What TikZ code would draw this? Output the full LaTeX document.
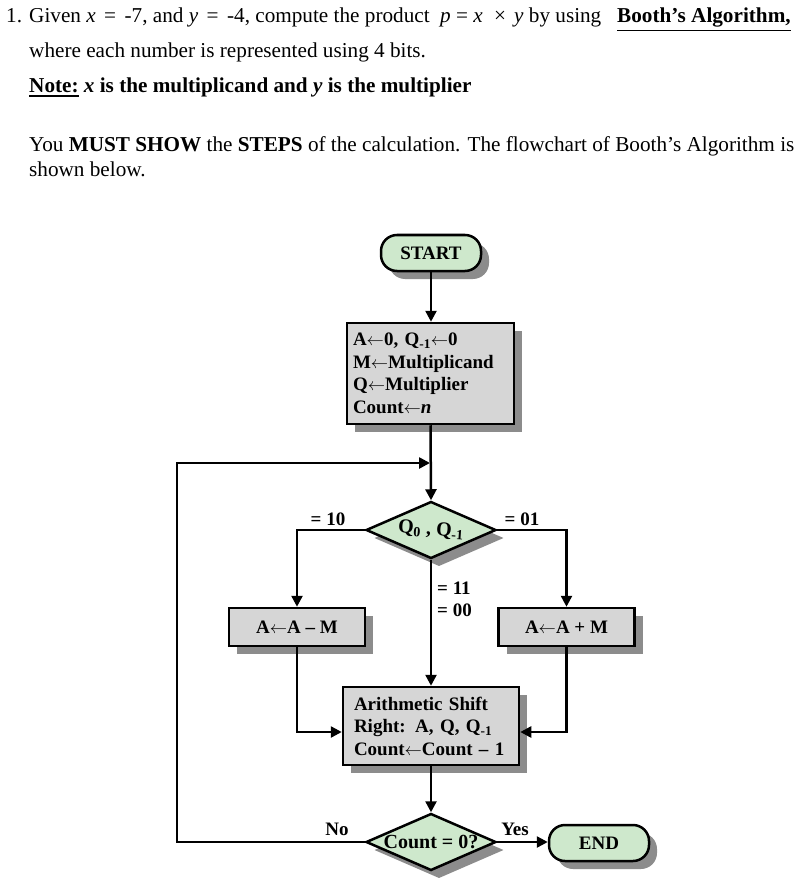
\documentclass[tikz,border=0pt]{standalone}
\usepackage{fontspec}
\setmainfont{Liberation Serif}
\usetikzlibrary{shapes.geometric,shadows,arrows.meta}
\definecolor{boxgreen}{RGB}{206,232,204}
\definecolor{boxgray}{RGB}{214,214,214}
\newcommand\myul[1]{\leavevmode\vtop{\hbox{#1}\kern2pt\hrule height 1.6pt}}
\newcommand\eqsp{\hspace{0.4em}}
\begin{document}
\begin{tikzpicture}[x=1pt,y=-1pt,
  txt/.style={inner sep=0pt, anchor=base west, font=\fontsize{21.2}{25}\selectfont},
  shd/.style={drop shadow={shadow xshift=8pt,shadow yshift=-8pt,fill=black!60,opacity=0.75}},
  procbox/.style={draw, line width=2.5pt, fill=boxgray, shd, font=\fontsize{19}{22.5}\selectfont\bfseries, inner sep=0pt},
  termbox/.style={draw, line width=2.5pt, fill=boxgreen, shd, rounded corners=16pt, font=\fontsize{19}{22}\selectfont\bfseries, minimum width=100pt, minimum height=36pt, inner sep=0pt},
  decbox/.style={diamond, draw, line width=2.5pt, fill=boxgreen, shd, minimum width=130pt, minimum height=57pt, inner sep=0pt},
  dectext/.style={font=\fontsize{20}{22}\selectfont\bfseries, inner sep=0pt},
  lbl/.style={font=\fontsize{19}{22}\selectfont\bfseries, inner sep=0pt},
  flow/.style={line width=2.5pt, -{Triangle[length=11pt,width=11pt]}}
]
\useasboundingbox (0,0) rectangle (796,885);
\fill[white] (0,0) rectangle (796,885);

% ---- question text ----
\node[txt] (l1a) at (6,23) {1.};
\node[txt] (l1b) at (29,23) {Given \textit{x}\eqsp=\eqsp-7, and \textit{y}\eqsp=\eqsp-4, compute the product};
\node[txt] (l1c) at (440,23) {\textit{p} = \textit{x}};
\node[txt] (l1d) at (494,23) {×};
\node[txt] (l1e) at (514,23) {\textit{y} by using};
\node[txt] (l1f) at (617,23) {\textbf{\myul{Booth’s Algorithm,}}};
\node[txt] (l2) at (29,58) {where each number is represented using 4 bits.};
\node[txt] (l3) at (29,93) {\textbf{\myul{Note:} \textit{x} is the multiplicand and \textit{y} is the multiplier}};
\node[txt] (l4) at (29,152) {You \textbf{MUST SHOW} the \textbf{STEPS} of the calculation. The flowchart of Booth’s Algorithm is};
\node[txt] (l5) at (29,177) {shown below.};

% ---- flowchart nodes ----
\node[termbox] (start) at (431,253) {START};
\node[procbox, minimum width=167pt, minimum height=101pt, text width=155pt, align=left] (init) at (430.5,373.5)
  {A$\leftarrow$0, Q\textsubscript{-1}$\leftarrow$0\\M$\leftarrow$Multiplicand\\Q$\leftarrow$Multiplier\\Count$\leftarrow$\textit{n}};
\node[decbox, label={[dectext, name=dQt, rotate=-4]center:Q\textsubscript{0} , Q\textsubscript{-1}}] (dQ) at (431,530) {};
\node[procbox, minimum width=136pt, minimum height=38pt] (am) at (297,627) {A$\leftarrow$A – M};
\node[procbox, minimum width=136pt, minimum height=38pt] (ap) at (566.5,627) {A$\leftarrow$A + M};
\node[procbox, minimum width=176pt, minimum height=78pt, text width=154pt, align=left] (arith) at (431,726)
  {Arithmetic Shift\\Right: A, Q, Q\textsubscript{-1}\\Count$\leftarrow$Count – 1};
\node[decbox, label={[dectext, name=dCt]center:Count = 0?}] (dC) at (431,842) {};
\node[termbox] (end) at (599,843) {END};

% ---- connectors ----
\coordinate (join) at (430,463);
\coordinate (loopbot) at (177,842);
\draw[flow] (start.south) -- (start.south |- init.north);
\draw[flow] (init.south) -- (dQ.north);
\draw[flow] (dQ.west) -| (am.north);
\draw[flow] (dQ.east) -| (ap.north);
\draw[flow] (dQ.south) -- (arith.north);
\draw[flow] (am.south) |- ([yshift=-6pt]arith.west);
\draw[flow] (ap.south) |- ([yshift=-6pt]arith.east);
\draw[flow] (arith.south) -- (dC.north);
\draw[flow] (dC.east) -- (dC.east -| end.west);
\draw[flow] (dC.west) -- (loopbot) |- (join);

% ---- labels ----
\node[lbl, anchor=base] (l10) at (328,525) {= 10};
\node[lbl, anchor=base] (l01) at (522,525) {= 01};
\node[lbl, anchor=base west] (l11) at (437,594) {= 11};
\node[lbl, anchor=base west] (l00) at (437,616) {= 00};
\node[lbl, anchor=base] (lno) at (337,835) {No};
\node[lbl, anchor=base] (lyes) at (515,835) {Yes};
\end{tikzpicture}
\end{document}
